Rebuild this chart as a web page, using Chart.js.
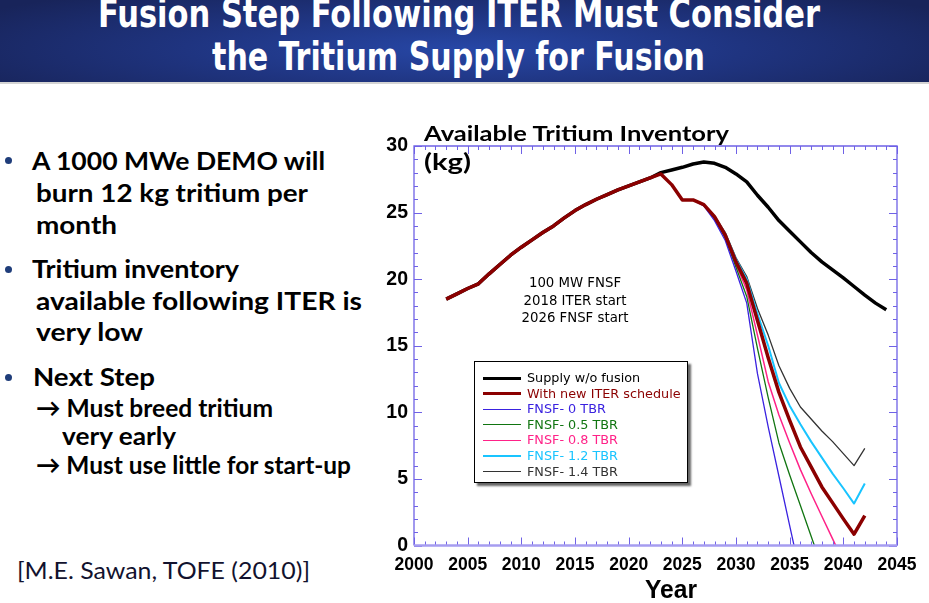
<!DOCTYPE html>
<html>
<head>
<meta charset="utf-8">
<script src="https://cdn.jsdelivr.net/npm/chart.js@4.4.1/dist/chart.umd.min.js"></script>
<style>
  body { margin: 0; width: 929px; height: 603px; position: relative; overflow: hidden; background: #fff; }
  #bar {
    position: absolute; left: 0; top: 0; width: 929px; height: 82px;
    background: radial-gradient(ellipse 60% 90% at 50% 60%, #2747a6 0%, #1f3480 50%, #18245a 100%);
    border-bottom: 2px solid #d4d4d4;
  }
  #chart { position: absolute; left: 0; top: 0; }
  .t { position: absolute; white-space: nowrap; transform-origin: 0 0; }
  .ttl { color: #fff; font: bold 39px "Liberation Sans Narrow", "DejaVu Sans Condensed", sans-serif; line-height: 38px; }
  .bl { color: #000; font: bold 25px Lato, "Open Sans", sans-serif; line-height: 30px; }
  .dot { position: absolute; width: 7px; height: 7px; border-radius: 50%; background: #1f3d7a; }
  .note { position: absolute; left: 495px; width: 160px; text-align: center; font: 13.3px "DejaVu Sans", sans-serif; line-height: 17.5px; color: #000; }
  #legend {
    position: absolute; left: 474px; top: 361px; width: 214px; height: 122px;
    border: 1px solid #000; background: #fff; box-shadow: 3px 3px 2px #666; box-sizing: border-box;
  }
  .row { position: absolute; left: 8px; height: 15px; font: 12.8px "DejaVu Sans", sans-serif; line-height: 15px; white-space: nowrap; }
  .row i { position: absolute; left: 0; width: 38px; }
  .row span { position: absolute; left: 44px; top: 0; }
</style>
</head>
<body>
<div id="bar"></div>
<div class="t ttl" style="left:98px; top:-5px" data-w="722">Fusion Step Following ITER Must Consider</div>
<div class="t ttl" style="left:212px; top:38px" data-w="493">the Tritium Supply for Fusion</div>

<div class="dot" style="left:5px; top:157px"></div>
<div class="t bl" style="left:32px; top:145px" data-w="293">A 1000 MWe DEMO will</div>
<div class="t bl" style="left:36px; top:177px" data-w="272">burn 12 kg tritium per</div>
<div class="t bl" style="left:36px; top:209px" data-w="81">month</div>
<div class="dot" style="left:5px; top:266px"></div>
<div class="t bl" style="left:32px; top:253px" data-w="207">Tritium inventory</div>
<div class="t bl" style="left:36px; top:285px" data-w="326">available following ITER is</div>
<div class="t bl" style="left:36px; top:316px" data-w="107">very low</div>
<div class="dot" style="left:5px; top:374px"></div>
<div class="t bl" style="left:33px; top:361px" data-w="122">Next Step</div>
<div class="t bl" style="left:36px; top:392px" data-w="237">&#8594; Must breed tritium</div>
<div class="t bl" style="left:62px; top:420px" data-w="114">very early</div>
<div class="t bl" style="left:36px; top:449px" data-w="315">&#8594; Must use little for start-up</div>

<div class="t" style="left:17px; top:556px; font:24px Lato, sans-serif; line-height:28px; color:#12122e" data-w="293">[M.E. Sawan, TOFE (2010)]</div>

<canvas id="chart" width="929" height="603"></canvas>

<div class="t" style="left:424px; top:120px; font:bold 21px Lato, sans-serif; line-height:25px; color:#000" data-w="305">Available Tritium Inventory</div>
<div class="t" style="left:424px; top:147px; font:bold 23px Lato, sans-serif; line-height:28px; color:#000" data-w="47">(kg)</div>
<div class="t" style="left:645px; top:575px; font:bold 26px 'Liberation Sans', sans-serif; line-height:28px; color:#000" data-w="52">Year</div>

<div class="note" style="top:274px">100 MW FNSF<br>2018 ITER start<br>2026 FNSF start</div>

<div id="legend"></div>

<script>
// years with data (all series follow the same curve up to 2022)
const years = [2003, 2004, 2005, 2006, 2007, 2008, 2009, 2010, 2011, 2012, 2013, 2014,
               2015, 2016, 2017, 2018, 2019, 2020, 2021, 2022, 2023, 2024, 2025, 2026,
               2027, 2028, 2029, 2030, 2031, 2032, 2033, 2034, 2035, 2036, 2037, 2038,
               2039, 2040, 2041, 2042, 2043, 2044];

const supplyWithoutFusion = [18.5, 18.9, 19.3, 19.65, 20.4, 21.1, 21.8, 22.4, 22.95, 23.5, 24.0, 24.6,
                             25.15, 25.6, 26.0, 26.35, 26.7, 27.0, 27.3, 27.6, 28.0, 28.2, 28.4, 28.65,
                             28.8, 28.7, 28.4, 27.9, 27.3, 26.3, 25.4, 24.4, 23.6, 22.8, 22.0, 21.3,
                             20.7, 20.1, 19.45, 18.8, 18.2, 17.7];

const withNewIterSchedule = [18.5, 18.9, 19.3, 19.65, 20.4, 21.1, 21.8, 22.4, 22.95, 23.5, 24.0, 24.6,
                             25.15, 25.6, 26.0, 26.35, 26.7, 27.0, 27.3, 27.6, 27.9, 27.1, 25.95, 25.95,
                             25.6, 24.7, 23.3, 21.3, 19.7, 16.9, 14.1, 11.5, 9.4, 7.4, 5.9, 4.4,
                             3.2, 2.0, 0.85, 2.25];

// FNSF cases start in 2026
const fnsfYears = [2026, 2027, 2028, 2029, 2030, 2031, 2032, 2033, 2034, 2035, 2036, 2037,
                   2038, 2039, 2040, 2041, 2042];
const fnsf00 = [25.95, 25.5, 24.4, 22.9, 20.6, 18.2, 12.9, 8.9, 5.2, 1.5, -2.2];
const fnsf05 = [25.95, 25.55, 24.55, 23.1, 20.9, 18.7, 14.8, 11.1, 7.7, 5.3, 3.0, 0.7, -1.6];
const fnsf08 = [25.95, 25.55, 24.6, 23.2, 21.1, 19.2, 15.8, 12.3, 9.8, 7.7, 5.7, 3.9, 2.2, 0.5, -1.2];
const fnsf12 = [25.95, 25.6, 24.7, 23.4, 21.5, 20.0, 17.4, 15.0, 12.2, 10.5, 9.1, 7.8, 6.6, 5.4, 4.3, 3.15, 4.65];
const fnsf14 = [25.95, 25.6, 24.75, 23.5, 21.6, 20.2, 17.8, 15.8, 13.5, 11.8, 10.4, 9.5, 8.6, 7.8, 6.9, 6.0, 7.3];

const xTicks = { min: 2000, max: 2045, step: 5 };
const yTicks = { min: 0, max: 30, step: 5 };

function pts(xs, ys) {
    return ys.map((v, i) => ({ x: xs[i], y: v }));
}

const datasets = [
    { label: 'Supply w/o fusion', data: pts(years, supplyWithoutFusion), borderColor: '#000000', borderWidth: 3.5, order: 6 },
    { label: 'With new ITER schedule', data: pts(years, withNewIterSchedule), borderColor: '#8b0000', borderWidth: 3.5, order: 0 },
    { label: 'FNSF- 0 TBR', data: pts(fnsfYears, fnsf00), borderColor: '#3a22e0', borderWidth: 1.3, order: 1 },
    { label: 'FNSF- 0.5 TBR', data: pts(fnsfYears, fnsf05), borderColor: '#117511', borderWidth: 1.3, order: 2 },
    { label: 'FNSF- 0.8 TBR', data: pts(fnsfYears, fnsf08), borderColor: '#ff2288', borderWidth: 1.5, order: 3 },
    { label: 'FNSF- 1.2 TBR', data: pts(fnsfYears, fnsf12), borderColor: '#19c4ff', borderWidth: 2, order: 4 },
    { label: 'FNSF- 1.4 TBR', data: pts(fnsfYears, fnsf14), borderColor: '#333333', borderWidth: 1.3, order: 5 }
];

// frame with inward ticks on all four sides
const frameTicks = {
    id: 'frameTicks',
    afterDatasetsDraw(chart) {
        const { ctx, chartArea: a, scales: { x, y } } = chart;
        ctx.save();
        ctx.strokeStyle = '#6f62e6';
        ctx.lineWidth = 1;
        ctx.beginPath();
        for (let v = xTicks.min; v <= xTicks.max; v++) {
            const px = Math.round(x.getPixelForValue(v)) + 0.5;
            const len = v % 5 === 0 ? 8 : 4;
            ctx.moveTo(px, a.bottom); ctx.lineTo(px, a.bottom - len);
            ctx.moveTo(px, a.top); ctx.lineTo(px, a.top + len);
        }
        for (let v = yTicks.min; v <= yTicks.max; v++) {
            const py = Math.round(y.getPixelForValue(v)) + 0.5;
            const len = v % 5 === 0 ? 8 : 4;
            ctx.moveTo(a.left, py); ctx.lineTo(a.left + len, py);
            ctx.moveTo(a.right, py); ctx.lineTo(a.right - len, py);
        }
        ctx.stroke();
        ctx.lineWidth = 1.3;
        ctx.beginPath();
        ctx.moveTo(a.left, a.bottom); ctx.lineTo(a.left, a.top);
        ctx.lineTo(a.right, a.top); ctx.lineTo(a.right, a.bottom);
        ctx.stroke();
        ctx.strokeStyle = '#a69df0';
        ctx.lineWidth = 2.5;
        ctx.beginPath();
        ctx.moveTo(a.left, a.bottom); ctx.lineTo(a.right, a.bottom);
        ctx.stroke();
        ctx.restore();
    }
};

const tickFont = { family: "'Liberation Sans', Arial, sans-serif", weight: 'bold' };

const chart = new Chart(document.getElementById('chart'), {
    type: 'line',
    data: { datasets: datasets },
    options: {
        responsive: false,
        animation: false,
        layout: { padding: { left: 380, top: 146, right: 32, bottom: 27.5 } },
        elements: { point: { radius: 0 }, line: { tension: 0, borderJoinStyle: 'round', borderCapStyle: 'butt' } },
        plugins: { legend: { display: false }, tooltip: { enabled: false } },
        scales: {
            x: {
                type: 'linear', min: xTicks.min, max: xTicks.max,
                grid: { display: false, drawTicks: false }, border: { display: false },
                ticks: { stepSize: xTicks.step, padding: 9, color: '#000', font: { ...tickFont, size: 17.5 }, callback: v => String(v) },
                afterFit: s => { s.height = 30; }
            },
            y: {
                min: yTicks.min, max: yTicks.max,
                grid: { display: false, drawTicks: false }, border: { display: false },
                ticks: { stepSize: yTicks.step, padding: 6, color: '#000', font: { ...tickFont, size: 19.5 } },
                afterFit: s => { s.width = 34; }
            }
        }
    },
    plugins: [frameTicks]
});

// legend box built from the datasets
const legend = document.getElementById('legend');
chart.data.datasets.forEach((ds, i) => {
    const row = document.createElement('div');
    row.className = 'row';
    row.style.top = (8 + i * 15.6) + 'px';
    const line = document.createElement('i');
    line.style.background = ds.borderColor;
    line.style.height = Math.max(1, Math.round(ds.borderWidth * 0.85)) + 'px';
    line.style.top = (8 - Math.round(ds.borderWidth * 0.85) / 2) + 'px';
    const txt = document.createElement('span');
    txt.textContent = ds.label;
    txt.style.color = ds.borderColor;
    row.appendChild(line);
    row.appendChild(txt);
    legend.appendChild(row);
});

// squeeze text to the widths seen on the slide
document.querySelectorAll('[data-w]').forEach(el => {
    const w = el.getBoundingClientRect().width;
    el.style.transform = 'scaleX(' + (parseFloat(el.dataset.w) / w) + ')';
});
</script>
</body>
</html>
